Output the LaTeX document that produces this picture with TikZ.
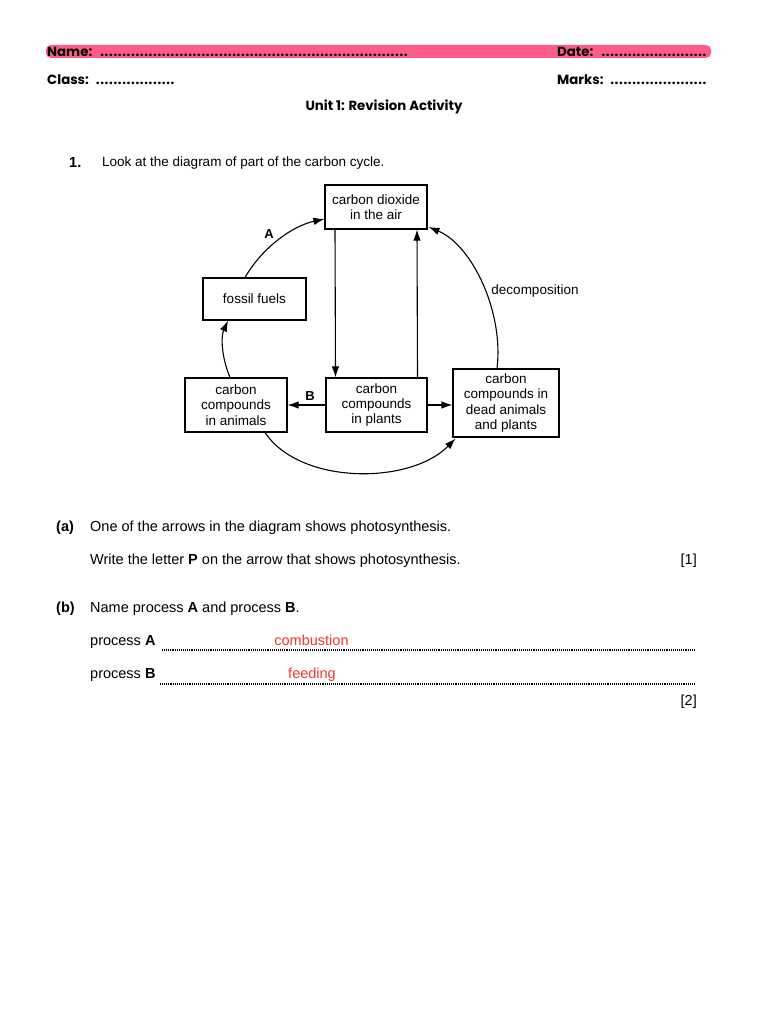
\documentclass[tikz,border=0pt]{standalone}
\usepackage{fontspec}
\setmainfont{Liberation Sans}
\newfontfamily\hdrfont{Poppins}
\usetikzlibrary{arrows.meta,calc}
\definecolor{barpink}{RGB}{255,92,138}
\definecolor{ansred}{RGB}{240,55,45}
\newcommand{\mydots}{\leaders\hbox to 4.4pt{\hss.\hss}\hfill}
\begin{document}
\begin{tikzpicture}[x=1pt,y=-1pt,
  box/.style={draw, line width=1.1pt, align=center, inner sep=0pt,
    font=\fontsize{13.5}{15.3}\selectfont},
  arr/.style={-{Latex[length=11pt,width=7.5pt]}, line width=1.1pt},
  hdr/.style={inner sep=0pt, font=\hdrfont\bfseries\fontsize{13.3}{15}\selectfont},
  body/.style={inner sep=0pt, font=\fontsize{14.5}{17}\selectfont},
  lbl/.style={inner sep=0pt, font=\bfseries\fontsize{13}{15}\selectfont},
  ans/.style={inner sep=0pt, text=ansred, font=\fontsize{14.5}{17}\selectfont},
  dotline/.style={line width=1.2pt, dash pattern=on 0.9pt off 1pt}]
\useasboundingbox (0,0) rectangle (768,1024);

% header
\fill[barpink, rounded corners=5pt] (46,45) rectangle (711,58);
\node[hdr, anchor=west] (name) at (47,51.5) {\hbox to 361pt{Name: \mydots}};
\node[hdr, anchor=west] (date) at (557,51.5) {\hbox to 153pt{Date: \mydots}};
\node[hdr, anchor=west] (class) at (47,80) {\hbox to 128pt{Class: \mydots}};
\node[hdr, anchor=west] (marks) at (557,80) {\hbox to 153pt{Marks: \mydots}};
\node[hdr] (title) at (384,107) {Unit 1: Revision Activity};

% question 1
\node[body, anchor=west, font=\bfseries\fontsize{14.5}{17}\selectfont] (q1) at (69,163) {1.};
\node[body, anchor=west, font=\fontsize{13.5}{16}\selectfont] (q1t) at (102,163) {Look at the diagram of part of the carbon cycle.};

% diagram boxes
\node[box, minimum width=102pt, minimum height=44pt] (co2) at (376,207) {carbon dioxide\\in the air};
\node[box, minimum width=103pt, minimum height=42pt] (fossil) at (254.5,299) {fossil fuels};
\node[box, minimum width=102pt, minimum height=54pt] (animals) at (236,405) {carbon\\compounds\\in animals};
\node[box, minimum width=101pt, minimum height=54pt] (plants) at (376.5,405) {carbon\\compounds\\in plants};
\node[box, minimum width=106pt, minimum height=68pt] (dead) at (506,403) {carbon\\compounds in\\dead animals\\and plants};

% connectors
\draw[arr] ($(co2.south)+(-41,0)$) -- ($(plants.north)+(-41,0)$);
\draw[arr] ($(plants.north)+(41,0)$) -- ($(co2.south)+(41,0)$);
\draw[arr] (plants.west) -- (animals.east);
\draw[arr] (plants.east) -- (plants.east -| dead.west);
\draw[arr] ($(animals.north)+(-6,0)$) .. controls (221,356) and (221,336) .. ($(fossil.south)+(-26.5,0)$);
\draw[arr] ($(fossil.north)+(-9.5,0)$) .. controls (262,248) and (292,226) .. ($(co2.west)+(0,12)$);
\draw[arr] ($(dead.north)+(-9,0)$) .. controls (504,312) and (472,245) .. ($(co2.east)+(1,20)$);
\draw[arr] ($(animals.south)+(29,0)$) .. controls (300,485) and (410,485) .. ($(dead.south west)+(3,1)$);

% labels
\node[lbl] (la) at (269,234) {A};
\node[lbl] (lb) at (310,396) {B};
\node[inner sep=0pt, font=\fontsize{13.5}{15}\selectfont] (ldec) at (535,291) {decomposition};

% part (a)
\node[body, anchor=west, font=\bfseries\fontsize{14.5}{17}\selectfont] (pa) at (56,528) {(a)};
\node[body, anchor=west] (pat) at (90,528) {One of the arrows in the diagram shows photosynthesis.};
\node[body, anchor=west] (pat2) at (90,561) {Write the letter \textbf{P} on the arrow that shows photosynthesis.};
\node[body, anchor=east] (m1) at (697,561) {[1]};

% part (b)
\node[body, anchor=west, font=\bfseries\fontsize{14.5}{17}\selectfont] (pb) at (56,609) {(b)};
\node[body, anchor=west] (pbt) at (90,609) {Name process \textbf{A} and process \textbf{B}.};
\node[body, anchor=west] (procA) at (90,642) {process \textbf{A}};
\node[body, anchor=west] (procB) at (90,675) {process \textbf{B}};
\coordinate (endA) at (695,650);
\coordinate (endB) at (695,684);
\draw[dotline] (162,650) -- (endA);
\draw[dotline] (160,684) -- (endB);
\node[ans] (ansA) at (311.5,640) {combustion};
\node[ans] (ansB) at (312,675) {feeding};
\node[body, anchor=east] (m2) at (697,702) {[2]};
\end{tikzpicture}
\end{document}
